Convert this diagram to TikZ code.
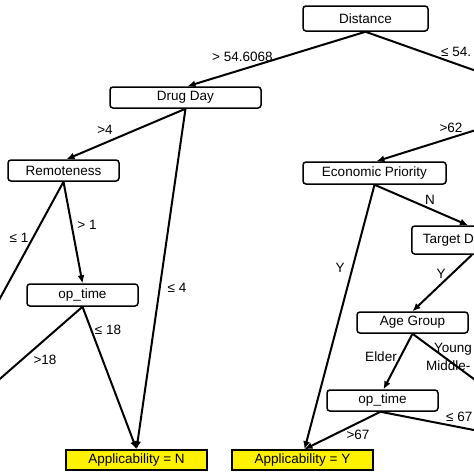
\documentclass[tikz,border=0pt]{standalone}
\usepackage{fontspec}
\setmainfont{Liberation Sans}
\usetikzlibrary{arrows.meta,calc}
\begin{document}
\begin{tikzpicture}[x=1pt,y=-1pt,
  txt/.style={font=\fontsize{13.5}{15}\selectfont},
  box/.style={txt,draw,line width=1.5pt,rounded corners=3pt,inner sep=0pt,fill=white,minimum height=21pt,minimum width=111pt},
  leaf/.style={txt,draw,line width=1.5pt,fill=yellow,inner sep=0pt,minimum width=141pt,minimum height=20pt},
  arr/.style={line width=2pt,-{Latex[length=8pt,width=7pt]}},
  ln/.style={line width=2pt},
  lbl/.style={txt,inner sep=0pt}]
\useasboundingbox (0,0) rectangle (474,474);
\fill[white] (0,0) rectangle (474,474);
\clip (0,0) rectangle (474,474);

% nodes
\node[box,minimum width=125pt,minimum height=25pt] (dist) at (365.5,18.5) {Distance};
\node[box,minimum width=151pt] (drug) at (185.5,97.5) {Drug Day};
\node[box] (remo) at (63.5,170.5) {Remoteness};
\node[box,minimum height=22pt] (opl) at (82.5,295) {op\_time};
\node[leaf] (appn) at (136.5,460) {Applicability = N};
\node[leaf] (appy) at (302.5,460) {Applicability = Y};
\node[box,minimum width=143pt,minimum height=22pt] (econ) at (374.5,173) {Economic Priority};
\node[box,minimum width=0pt,minimum height=28pt,anchor=west,inner xsep=11pt] (tgt) at (411,240) {Target D};
\node[box] (age) at (412.5,322.5) {Age Group};
\node[box] (opr) at (382.5,400.5) {op\_time};

% off-frame coordinates
\coordinate (offA) at (530,90);
\coordinate (offB) at (530,113);
\coordinate (offC) at (-20,335);
\coordinate (offD) at (-30,405);
\coordinate (offE) at (520,413);
\coordinate (offF) at (530,441);

% connectors
\draw[arr] (dist.south) -- ([xshift=2pt]drug.north);
\draw[ln] (dist.south) -- (offA);
\draw[arr] (offB) -- ([xshift=2pt]econ.north);
\draw[arr] (drug.south) -- ([xshift=3pt]remo.north);
\draw[arr] (drug.south) -- (appn.north);
\draw[ln] (remo.south) -- (offC);
\draw[arr] (remo.south) -- (opl.north);
\draw[ln] (opl.south) -- (offD);
\draw[arr] (opl.south) -- (appn.north);
\draw[arr] (econ.south) -- ([xshift=2pt]appy.north);
\draw[arr] (econ.south) -- ($(tgt.north west)+(57,0)$);
\draw[arr] ($(tgt.south west)+(61,0)$) -- (age.north);
\draw[arr] (age.south) -- ([xshift=1pt]opr.north);
\draw[ln] (age.south) -- (offE);
\draw[arr] ([xshift=-2pt]opr.south) -- ([xshift=2pt]appy.north);
\draw[ln] ([xshift=-2pt]opr.south) -- (offF);

% labels
\node[lbl,anchor=west] (l1) at (212,57) {> 54.6068};
\node[lbl,anchor=west] (l2) at (441,52) {≤ 54.};
\node[lbl] (l3) at (451,128) {>62};
\node[lbl] (l4) at (105,130) {>4};
\node[lbl] (l5) at (19,238) {≤ 1};
\node[lbl] (l6) at (87,225) {> 1};
\node[lbl] (l7) at (177,288) {≤ 4};
\node[lbl] (l8) at (108,330) {≤ 18};
\node[lbl] (l9) at (45,360) {>18};
\node[lbl] (l10) at (340,268) {Y};
\node[lbl] (l11) at (430,200) {N};
\node[lbl] (l12) at (441,274) {Y};
\node[lbl] (l13) at (381,357) {Elder};
\node[lbl,anchor=west] (l14) at (434,349) {Young};
\node[lbl,anchor=west] (l15) at (426,366) {Middle-};
\node[lbl] (l16) at (358,435) {>67};
\node[lbl,anchor=west] (l17) at (446,417) {≤ 67};
\end{tikzpicture}
\end{document}
